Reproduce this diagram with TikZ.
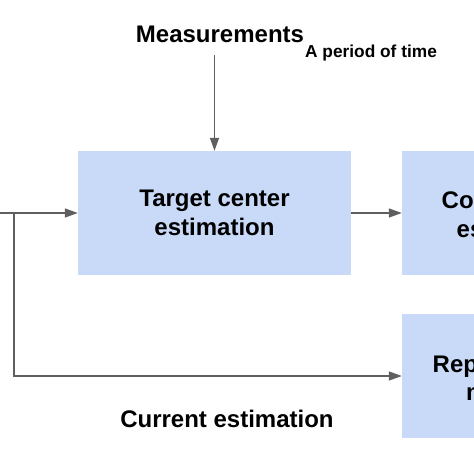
\documentclass[tikz,border=0pt]{standalone}
\usepackage{fontspec}
\setmainfont{Liberation Sans}
\usetikzlibrary{arrows.meta}

\begin{document}
\begin{tikzpicture}[x=1pt,y=-1pt,font=\bfseries\fontsize{24}{29}\selectfont]

    \definecolor{boxcolor}{RGB}{201,218,248}
    \definecolor{linecolor}{RGB}{95,95,95}

    \tikzset{
        block/.style={fill=boxcolor,minimum width=273pt,minimum height=124pt,inner sep=0pt,align=center},
        flow/.style={draw=linecolor,line width=1.5pt,-{Triangle[length=13pt,width=9pt]}},
        label/.style={inner sep=0pt,anchor=base west}
    }

    \useasboundingbox (0,0) rectangle (474,474);
    \clip (0,0) rectangle (474,474);

    \node[block] (tce) at (214.5,213) {Target center\\estimation};
    \node[block] (coe) at (538.5,213) {};
    \node[block] (rep) at (538.5,376) {};

    \node[label] (coetop) at (441.5,208) {Co};
    \node[label] (coebot) at (456.5,237) {es};
    \node[label] (reptop) at (432.5,372) {Rep};
    \node[label] (repbot) at (466,400) {m};

    \node[inner sep=0pt,anchor=base] (meas) at (220,42) {Measurements};
    \node[label,font=\bfseries\fontsize{17.3}{20}\selectfont] (period) at (305,57) {A period of time};
    \node[inner sep=0pt,anchor=base] (curr) at (227,427) {Current estimation};

    \coordinate (mtop) at (214.5,55);
    \coordinate (in) at (-2,213);
    \coordinate (split) at (14,213);

    \draw[flow] (mtop) -- (tce.north);
    \draw[flow] (in) -- (tce.west);
    \draw[flow] (tce.east) -- (coe.west);
    \draw[flow] (split) |- (rep.west);

\end{tikzpicture}
\end{document}
